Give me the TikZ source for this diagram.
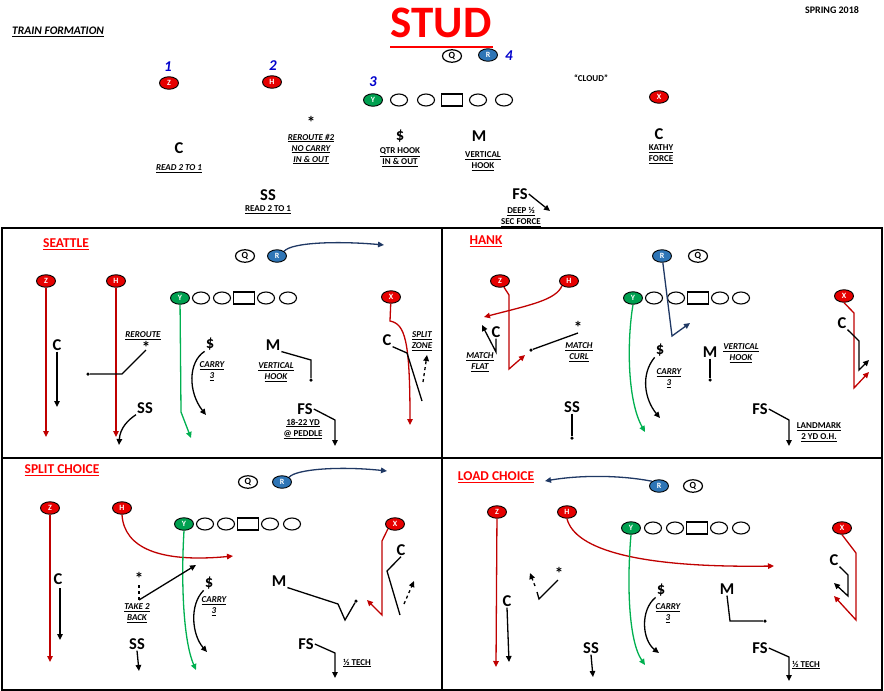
\documentclass[tikz,border=0pt]{standalone}
\usepackage{fontspec}
\setmainfont{Carlito}
\usetikzlibrary{shapes.geometric,arrows.meta}
\definecolor{titlered}{RGB}{255,0,0}
\definecolor{routered}{RGB}{192,0,0}
\definecolor{plred}{RGB}{230,0,0}
\definecolor{plgreen}{RGB}{0,160,80}
\definecolor{routegreen}{RGB}{0,176,80}
\definecolor{plblue}{RGB}{46,117,182}
\definecolor{routeblue}{RGB}{31,56,100}
\definecolor{numblue}{RGB}{0,0,204}
\begin{document}
\begin{tikzpicture}[x=1pt,y=-1pt,
 pl/.style={ellipse, draw=black, line width=0.9pt, minimum width=19pt, minimum height=12.5pt, inner sep=0pt, font=\fontsize{8}{8}\selectfont\bfseries, text=white},
 rp/.style={pl, fill=plred}, gp/.style={pl, fill=plgreen}, bp/.style={pl, fill=plblue},
 qb/.style={pl, fill=white, text=black, font=\fontsize{9.5}{9.5}\selectfont\bfseries, line width=1.2pt},
 ol/.style={ellipse, draw=black, line width=1.1pt, minimum width=17pt, minimum height=12pt, inner sep=0pt},
 ctr/.style={rectangle, draw=black, line width=1.4pt, minimum width=21pt, minimum height=12pt, inner sep=0pt},
 df/.style={font=\fontsize{16.5}{16.5}\selectfont\bfseries, inner sep=1pt},
 stf/.style={font=\fontsize{17}{17}\selectfont\bfseries, inner sep=0pt},
 li/.style={font=\fontsize{9}{11}\selectfont\bfseries\itshape, align=center, inner sep=0pt},
 lu/.style={font=\fontsize{9}{11}\selectfont\bfseries, align=center, inner sep=0pt},
 ttl/.style={font=\fontsize{13.5}{13.5}\selectfont\bfseries, text=titlered, inner sep=0pt},
 num/.style={font=\fontsize{15}{15}\selectfont\bfseries\itshape, text=numblue, inner sep=0pt},
 rt/.style={line width=1.3pt},
 atip/.style={-{Triangle[width=5.5pt,length=6pt]}},
 redr/.style={rt, draw=routered, atip},
 grnr/.style={rt, draw=routegreen, atip},
 blur/.style={rt, draw=routeblue, atip},
 blk/.style={rt, draw=black},
 blka/.style={blk, atip},
 dsh/.style={blk, dash pattern=on 3pt off 3pt, atip},
 dt/.style={circle, fill=black, inner sep=0pt, minimum size=3.5pt},
 pframe/.style={line width=2pt}
]
\useasboundingbox (0,0) rectangle (884,691);
\fill[white] (0,0) rectangle (884,691);

% ================= TOP =================
\node[font=\fontsize{45}{45}\selectfont\bfseries, text=titlered, inner sep=0pt] (title) at (441,23) {STUD};
\draw[titlered, line width=2.5pt] (390,47) -- (493,47);
\node[font=\fontsize{10}{10}\selectfont\bfseries, inner sep=0pt] (spring) at (832,10) {SPRING 2018};
\node[li, anchor=west, font=\fontsize{11.5}{11.5}\selectfont\bfseries\itshape] (train) at (12,32) {\underline{TRAIN FORMATION}};

\node[num] (n1) at (168,67) {1};
\node[num] (n2) at (273,66) {2};
\node[num] (n3) at (373,82) {3};
\node[num] (n4) at (509,56) {4};
\node[rp] (tz) at (169,83) {Z};
\node[rp] (th) at (272,82) {H};
\node[gp] (ty) at (373,100) {Y};
\node[ol] (to1) at (399,100) {};
\node[ol] (to2) at (426,100) {};
\node[ctr] (toc) at (452,100) {};
\node[ol] (to3) at (478,100) {};
\node[ol] (to4) at (504,100) {};
\node[qb] (tq) at (452,56) {Q};
\node[bp] (tr) at (488,55) {R};
\node[rp] (tx) at (659,97) {X};
\node[lu] (cloud) at (591,78) {“CLOUD”};

\node[df] (tc1) at (179,148) {C};
\node[li] (tc1l) at (179,169) {\underline{READ 2 TO 1}};
\node[stf] (tstar) at (311,122) {*};
\node[li] (tstarl) at (311,149) {\underline{REROUTE \#2}\\\underline{NO CARRY}\\\underline{IN \& OUT}};
\node[df] (tdol) at (400,136) {\$};
\node[lu] (tdoll) at (400,157) {\underline{QTR HOOK}\\\underline{IN \& OUT}};
\node[df] (tm) at (479,136) {M};
\node[lu] (tml) at (483,161) {\underline{VERTICAL}\\\underline{HOOK}};
\node[df] (tc2) at (659,134) {C};
\node[lu] (tc2l) at (661,154) {\underline{KATHY}\\\underline{FORCE}};
\node[df] (tss) at (268,195) {SS};
\node[lu] (tssl) at (268,210) {\underline{READ 2 TO 1}};
\node[df] (tfs) at (520,194) {FS};
\node[lu] (tfsl) at (521,217) {\underline{DEEP ½}\\\underline{SEC FORCE}};
\coordinate (tfsend) at (550,211);
\draw[blka] (tfs.east) -- (tfsend);

% ================= FRAME =================
\draw[pframe] (2,228) rectangle (882,690);
\draw[pframe] (442,228) -- (442,690);
\draw[pframe] (2,458) -- (882,458);

% ================= SEATTLE =================
\node[ttl] (s-t) at (66,244) {\underline{SEATTLE}};
\node[rp] (s-z) at (46,281) {Z};
\node[rp] (s-h) at (116,281) {H};
\node[gp] (s-y) at (180,298) {Y};
\node[ol] (s-o1) at (201,298) {};
\node[ol] (s-o2) at (222,298) {};
\node[ctr] (s-oc) at (244,298) {};
\node[ol] (s-o3) at (266,298) {};
\node[ol] (s-o4) at (288,298) {};
\node[qb] (s-q) at (245,256) {Q};
\node[bp] (s-r) at (277,256) {R};
\node[rp] (s-x) at (391,297) {X};

\coordinate (s-zend) at (46,437);
\coordinate (s-hend) at (116,437);
\coordinate (s-yend) at (191,438);
\coordinate (s-rend) at (384,245);
\coordinate (s-xend) at (410,425);
\draw[redr] (s-z) -- (s-zend);
\draw[redr] (s-h) -- (s-hend);
\draw[grnr] (s-y) -- (181,412) -- (s-yend);
\draw[blur] (s-r.north east) .. controls (292,242) and (340,241) .. (s-rend);
\draw[redr] (s-x) -- (390,321) .. controls (405,324) and (410,340) .. (s-xend);

\node[df] (s-c2) at (387,340) {C};
\coordinate (s-c2end) at (422,401);
\draw[blk] (s-c2.south east) -- (407,353) -- (s-c2end);
\node[li] (s-spl) at (422,341) {\underline{SPLIT}\\\underline{ZONE}};
\coordinate (s-da) at (423,382);
\coordinate (s-db) at (427,355);
\draw[dsh] (s-da) -- (s-db);

\node[li] (s-rrl) at (143,336) {\underline{REROUTE}};
\node[stf] (s-star) at (146,347) {*};
\node[dt] (s-dot) at (88,374) {};
\coordinate (s-rre) at (146,350);
\draw[blk] (s-dot) -- (122,374) -- (s-rre);

\node[df] (s-c1) at (57,345) {C};
\coordinate (s-c1end) at (57,407);
\draw[blka] (s-c1) -- (s-c1end);

\node[df] (s-ss) at (145,408) {SS};
\coordinate (s-ssend) at (119,445);
\draw[blka] (s-ss.south west) .. controls (128,420) and (120,428) .. (s-ssend);

\node[df] (s-dol) at (210,344) {\$};
\node[li] (s-doll) at (212,371) {\underline{CARRY}\\\underline{3}};
\coordinate (s-dolend) at (206,415);
\draw[blka] (s-dol.south west) .. controls (188,362) and (188,392) .. (s-dolend);

\node[df] (s-m) at (273,345) {M};
\node[dt] (s-mdot) at (311,380) {};
\draw[blk] (s-m.south east) -- (311,360) -- (s-mdot);
\node[li] (s-ml) at (276,372) {\underline{VERTICAL}\\\underline{HOOK}};

\node[df] (s-fs) at (305,409) {FS};
\coordinate (s-fsend) at (335,446);
\draw[blka] (s-fs.east) -- (335,420) -- (s-fsend);
\node[lu] (s-fsl) at (303,429) {\underline{18-22 YD}\\\underline{@ PEDDLE}};

% ================= HANK =================
\node[ttl] (h-t) at (486,241) {\underline{HANK}};
\node[rp] (h-z) at (500,281) {Z};
\node[rp] (h-h) at (569,281) {H};
\node[gp] (h-y) at (633,298) {Y};
\node[ol] (h-o1) at (654,298) {};
\node[ol] (h-o2) at (676,298) {};
\node[ctr] (h-oc) at (698,298) {};
\node[ol] (h-o3) at (720,298) {};
\node[ol] (h-o4) at (741,298) {};
\node[bp] (h-r) at (662,256) {R};
\node[qb] (h-q) at (698,256) {Q};
\node[rp] (h-x) at (844,296) {X};

\coordinate (h-zend) at (525,355);
\draw[redr] (h-z) -- (509,295) -- (509,369) -- (h-zend);
\coordinate (h-hend) at (484,317);
\draw[redr] (h-h.south west) .. controls (556,300) and (530,305) .. (h-hend);
\coordinate (h-yend) at (645,432);
\draw[grnr] (h-y.south) .. controls (627,340) and (627,400) .. (h-yend);
\coordinate (h-rend) at (690,323);
\draw[blur] (h-r) -- (672,336) -- (h-rend);

\node[df] (h-c1) at (496,332) {C};
\coordinate (h-c1end) at (482,325);
\draw[blka] (h-c1.south) -- (496,352) -- (h-c1end);
\node[li] (h-c1l) at (480,362) {\underline{MATCH}\\\underline{FLAT}};

\node[stf] (h-star) at (578,327) {*};
\node[dt] (h-dot) at (531,350) {};
\coordinate (h-stare) at (578,333);
\draw[blk] (h-dot) -- (h-stare);
\node[li] (h-starl) at (579,352) {\underline{MATCH}\\\underline{CURL}};

\node[df] (h-ss) at (572,407) {SS};
\node[dt] (h-ssdot) at (572,438) {};
\draw[blk] (h-ss) -- (h-ssdot);

\node[df] (h-dol) at (660,350) {\$};
\node[li] (h-doll) at (669,378) {\underline{CARRY}\\\underline{3}};
\coordinate (h-dolend) at (660,418);
\draw[blka] (h-dol.south west) .. controls (640,375) and (645,400) .. (h-dolend);

\node[df] (h-m) at (710,352) {M};
\node[dt] (h-mdot) at (710,380) {};
\draw[blk] (h-m) -- (h-mdot);
\node[li] (h-ml) at (741,353) {\underline{VERTICAL}\\\underline{HOOK}};

\coordinate (h-xend) at (869,372);
\draw[redr] (h-x.south) -- (854,313) -- (854,388) -- (h-xend);
\node[df] (h-c2) at (842,323) {C};
\coordinate (h-c2end) at (869,360);
\draw[blka] (h-c2.south east) -- (859,341) -- (859,370) -- (h-c2end);

\node[df] (h-fs) at (760,409) {FS};
\coordinate (h-fsend) at (789,446);
\draw[blka] (h-fs.east) -- (789,420) -- (h-fsend);
\node[lu] (h-fsl) at (819,432) {\underline{LANDMARK}\\\underline{2 YD O.H.}};

% ================= SPLIT CHOICE =================
\node[ttl] (sc-t) at (62,470) {\underline{SPLIT CHOICE}};
\node[rp] (sc-z) at (50,508) {Z};
\node[rp] (sc-h) at (122,508) {H};
\node[gp] (sc-y) at (184,524) {Y};
\node[ol] (sc-o1) at (205,524) {};
\node[ol] (sc-o2) at (226,524) {};
\node[ctr] (sc-oc) at (248,524) {};
\node[ol] (sc-o3) at (270,524) {};
\node[ol] (sc-o4) at (292,524) {};
\node[qb] (sc-q) at (248,482) {Q};
\node[bp] (sc-r) at (282,482) {R};
\node[rp] (sc-x) at (395,524) {X};

\coordinate (sc-zend) at (50,662);
\draw[redr] (sc-z) -- (sc-zend);
\node[df, fill=white, inner sep=3pt] (sc-c1) at (58,579) {C};
\coordinate (sc-c1a) at (60,588);
\coordinate (sc-c1end) at (60,640);
\draw[blka] (sc-c1a) -- (sc-c1end);

\coordinate (sc-hend) at (233,556);
\draw[redr] (sc-h.south) .. controls (124,548) and (160,563) .. (sc-hend);
\coordinate (sc-yend) at (196,670);
\draw[grnr] (sc-y.south) .. controls (181,580) and (183,640) .. (sc-yend);
\coordinate (sc-rend) at (387,471);
\draw[blur] (sc-r.north east) .. controls (296,469) and (340,466) .. (sc-rend);
\coordinate (sc-xend) at (367,600);
\draw[redr] (sc-x.south west) -- (382,541) -- (382,615) -- (sc-xend);

\node[df] (sc-c2) at (401,550) {C};
\coordinate (sc-c2end) at (400,615);
\draw[blk] (sc-c2.south) -- (387,571) -- (sc-c2end);
\coordinate (sc-da) at (404,604);
\coordinate (sc-db) at (414,581);
\draw[dsh] (sc-da) -- (sc-db);

\node[df] (sc-m) at (279,581) {M};
\node[dt] (sc-mdot) at (356,601) {};
\draw[blk] (sc-m.south east) -- (338,604) -- (345,620) -- (sc-mdot);

\node[df] (sc-fs) at (306,644) {FS};
\coordinate (sc-fsend) at (335,678);
\draw[blka] (sc-fs.east) -- (335,653) -- (sc-fsend);
\node[lu] (sc-fsl) at (357,663) {\underline{½ TECH}};

\node[stf] (sc-star) at (139,578) {*};
\coordinate (sc-sa) at (139,585);
\coordinate (sc-sb) at (139,600);
\draw[blk, dash pattern=on 3pt off 3pt] (sc-sa) -- (sc-sb);
\coordinate (sc-send) at (196,565);
\draw[blka] (sc-sb) -- (sc-send);
\node[li] (sc-starl) at (137,613) {\underline{TAKE 2}\\\underline{BACK}};

\node[df] (sc-ss) at (137,644) {SS};
\coordinate (sc-ssend) at (139,671);
\draw[blka] (sc-ss.south) -- (sc-ssend);

\node[df] (sc-dol) at (209,583) {\$};
\node[li] (sc-doll) at (214,606) {\underline{CARRY}\\\underline{3}};
\coordinate (sc-dolend) at (207,652);
\draw[blka] (sc-dol.south west) .. controls (189,605) and (192,635) .. (sc-dolend);

% ================= LOAD CHOICE =================
\node[ttl] (lc-t) at (496,477) {\underline{LOAD CHOICE}};
\node[bp] (lc-r) at (659,486) {R};
\node[qb] (lc-q) at (693,486) {Q};
\coordinate (lc-rend) at (545,481);
\draw[blur] (lc-r.north west) .. controls (620,475) and (580,475) .. (lc-rend);
\node[rp] (lc-z) at (497,512) {Z};
\node[rp] (lc-h) at (567,512) {H};
\node[gp] (lc-y) at (631,528) {Y};
\node[ol] (lc-o1) at (653,528) {};
\node[ol] (lc-o2) at (675,528) {};
\node[ctr] (lc-oc) at (697,528) {};
\node[ol] (lc-o3) at (719,528) {};
\node[ol] (lc-o4) at (741,528) {};
\node[rp] (lc-x) at (842,528) {X};

\coordinate (lc-zend) at (496,667);
\draw[redr] (lc-z) -- (lc-zend);
\coordinate (lc-hend) at (774,566);
\draw[redr] (lc-h.south) .. controls (575,550) and (640,568) .. (lc-hend);
\coordinate (lc-yend) at (645,665);
\draw[grnr] (lc-y.south) .. controls (627,580) and (628,640) .. (lc-yend);

\node[df] (lc-dol) at (661,590) {\$};
\node[li] (lc-doll) at (668,613) {\underline{CARRY}\\\underline{3}};
\coordinate (lc-dolend) at (659,653);
\draw[blka] (lc-dol.south west) .. controls (640,610) and (642,640) .. (lc-dolend);

\node[df] (lc-m) at (727,589) {M};
\node[dt] (lc-mdot) at (765,621) {};
\draw[blk] (lc-m.south) -- (730,621) -- (lc-mdot);

\coordinate (lc-xend) at (834,596);
\draw[redr] (lc-x.south) -- (856,553) -- (856,620) -- (lc-xend);
\node[df] (lc-c2) at (834,560) {C};
\coordinate (lc-c2end) at (834,583);
\draw[blka] (lc-c2.south east) -- (848,575) -- (848,596) -- (lc-c2end);

\node[df] (lc-fs) at (760,648) {FS};
\coordinate (lc-fsend) at (789,681);
\draw[blka] (lc-fs.east) -- (789,657) -- (lc-fsend);
\node[lu] (lc-fsl) at (806,665) {\underline{½ TECH}};

\node[df] (lc-c1) at (507,601) {C};
\coordinate (lc-c1end) at (509,662);
\draw[blka] (lc-c1.south) -- (lc-c1end);

\node[stf] (lc-star) at (559,573) {*};
\coordinate (lc-sa) at (558,580);
\coordinate (lc-sb) at (537,592);
\draw[blk] (lc-sa) -- (539,599) -- (lc-sb);
\coordinate (lc-sc) at (535,586);
\coordinate (lc-sd) at (530,573);
\draw[dsh] (lc-sc) -- (lc-sd);

\node[df] (lc-ss) at (591,648) {SS};
\coordinate (lc-ssend) at (593,677);
\draw[blka] (lc-ss.south) -- (lc-ssend);
\end{tikzpicture}
\end{document}
